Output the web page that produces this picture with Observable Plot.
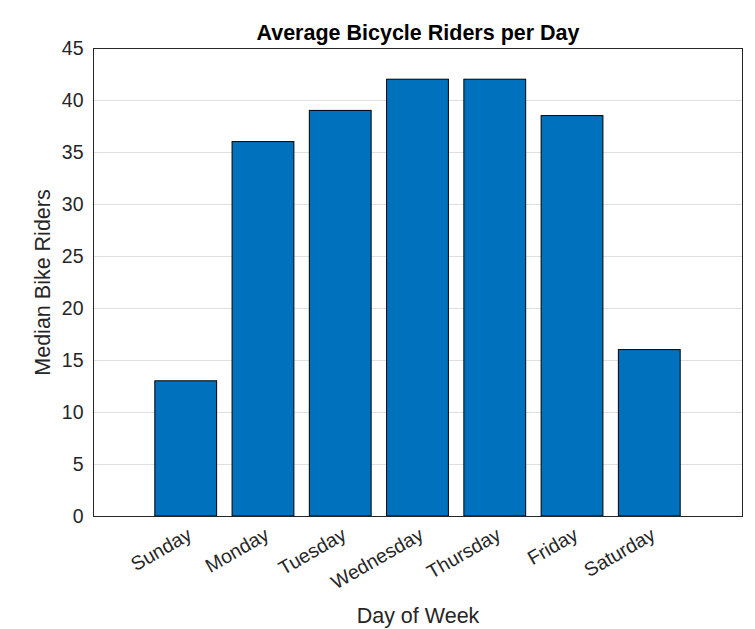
<!DOCTYPE html>
<html>
<head>
<meta charset="utf-8">
<script src="https://cdn.jsdelivr.net/npm/d3@7"></script>
<script src="https://cdn.jsdelivr.net/npm/@observablehq/plot@0.6"></script>
<style>
  body { margin: 0; background: #fff; }
  #chart svg { display: block; }
</style>
</head>
<body>
<div id="chart"></div>
<script>
const days = ["Sunday", "Monday", "Tuesday", "Wednesday", "Thursday", "Friday", "Saturday"];
const riders = [13, 36, 39, 42, 42, 38.5, 16];
const yTicks = [0, 5, 10, 15, 20, 25, 30, 35, 40, 45];
const titleText = "Average Bicycle Riders per Day";
const xLabel = "Day of Week";
const yLabel = "Median Bike Riders";

const data = days.map((d, i) => ({day: d, value: riders[i]}));
const font = "Liberation Sans, Arial, Helvetica, sans-serif";
const ink = "#262626";

const chart = Plot.plot({
  width: 755,
  height: 629,
  marginLeft: 93,
  marginRight: 13,
  marginTop: 48,
  marginBottom: 113,
  style: {fontFamily: font, color: ink, background: "#fff"},
  x: {type: "band", domain: days, paddingInner: 0.2, paddingOuter: 0.8, align: 0.5, round: false},
  y: {domain: [0, 45]},
  marks: [
    Plot.gridY(yTicks, {stroke: "#dfdfdf", strokeOpacity: 1}),
    Plot.barY(data, {x: "day", y: "value", fill: "#0072BD", stroke: "#000", strokeWidth: 1}),
    Plot.frame({stroke: ink, strokeWidth: 1}),
    Plot.axisY(yTicks, {tickSize: 0, tickPadding: 10, fontSize: 19.5, fill: ink, label: null}),
    Plot.axisX({ticks: [], label: null}),
    Plot.text(days, {x: d => d, frameAnchor: "bottom", rotate: -30, textAnchor: "end", lineAnchor: "top", dx: 0, dy: 10, fontSize: 19.5, fill: ink}),
    Plot.text([titleText], {frameAnchor: "top", textAnchor: "middle", dy: -24, fontSize: 21.5, fontWeight: "bold", fill: "#000"}),
    Plot.text([xLabel], {frameAnchor: "bottom", textAnchor: "middle", dy: 106, fontSize: 21.5, fill: ink}),
    Plot.text([yLabel], {frameAnchor: "left", textAnchor: "middle", dx: -50, rotate: -90, fontSize: 21.5, fill: ink})
  ]
});
document.getElementById("chart").appendChild(chart);
</script>
</body>
</html>
